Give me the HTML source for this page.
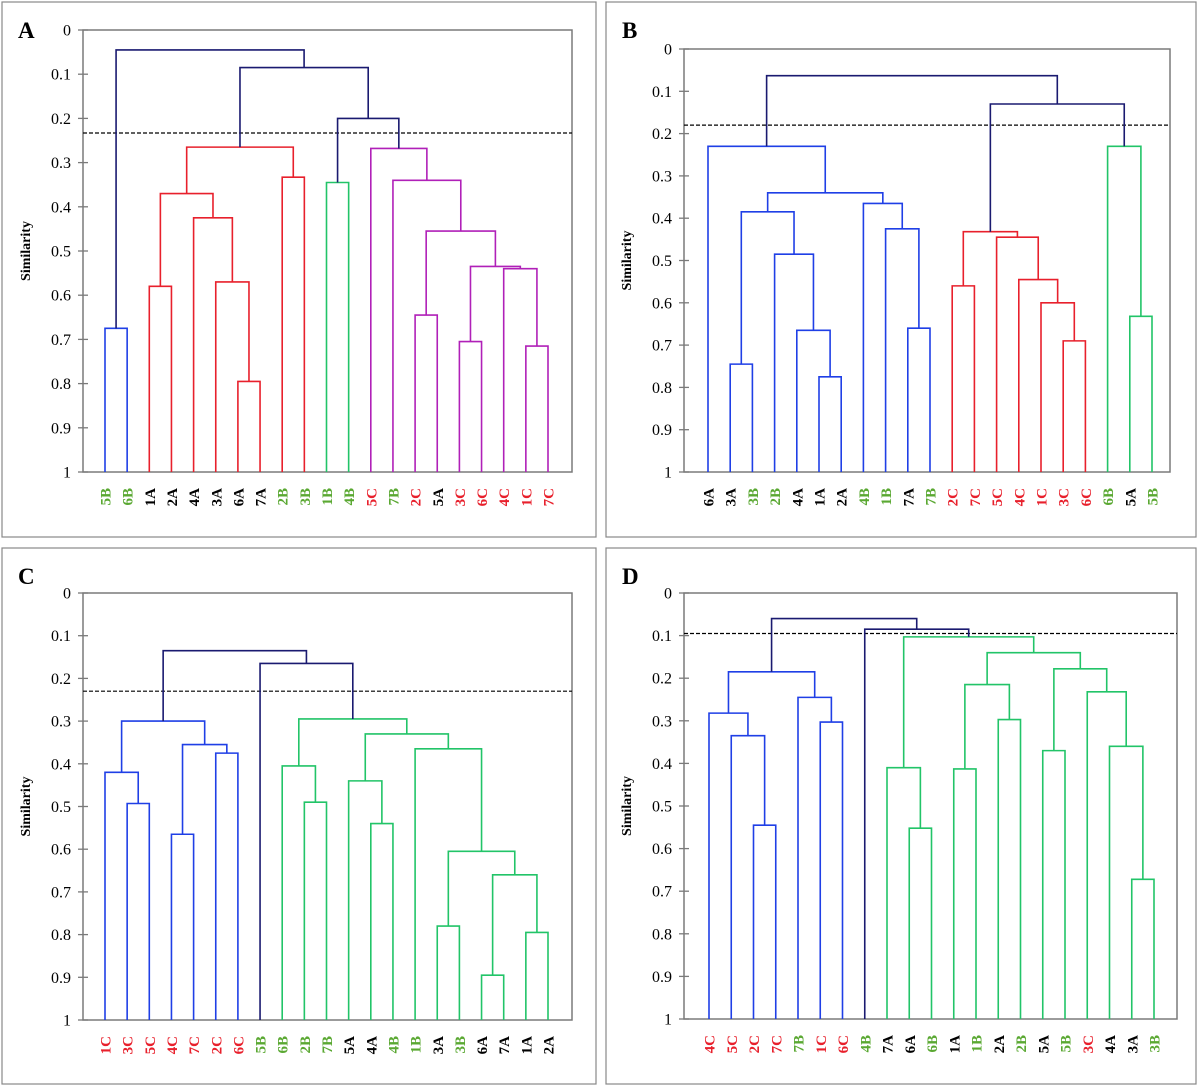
<!DOCTYPE html>
<html><head><meta charset="utf-8"><style>
body{margin:0;background:#fff}
svg text{font-family:"Liberation Serif",serif}
</style></head><body>
<svg id="fig" width="1200" height="1086" viewBox="0 0 1200 1086" xmlns="http://www.w3.org/2000/svg"></svg>
<script>
const NS="http://www.w3.org/2000/svg";
const svg=document.getElementById('fig');
const COL={b:'#1f3fe6',r:'#e8202c',m:'#b020b8',g:'#22c468',n:'#1a1a70'};
const LBL={A:'#000',B:'#5aa832',C:'#e8202c'};

// Panel A data
const leavesA=['5B','6B','1A','2A','4A','3A','6A','7A','2B','3B','1B','4B','5C','7B','2C','5A','3C','6C','4C','1C','7C'];
const leftA=[0,6,5,4,2,25,8,26,10,14,16,19,18,31,30,13,12,29,28,21];
const rightA=[1,7,22,23,3,24,9,27,11,15,17,20,32,33,34,35,36,37,38,39];
const heightA=[0.675,0.795,0.57,0.425,0.58,0.37,0.333,0.265,0.345,0.645,0.705,0.715,0.54,0.535,0.455,0.34,0.268,0.2,0.085,0.045];
const colorA=['b','r','r','r','r','r','r','r','g','m','m','m','m','m','m','m','m','n','n','n'];
const cutA=0.233;
// Panel B data
const leavesB=['6A','3A','3B','2B','4A','1A','2A','4B','1B','7A','7B','2C','7C','5C','4C','1C','3C','6C','6B','5A','5B'];
const leftB=[1,5,4,3,21,9,8,7,25,0,16,15,14,13,11,35,19,18,36,30];
const rightB=[2,6,22,23,24,10,26,27,28,29,17,31,32,33,12,34,20,37,38,39];
const heightB=[0.745,0.775,0.665,0.485,0.385,0.66,0.425,0.365,0.34,0.23,0.69,0.6,0.545,0.445,0.56,0.432,0.632,0.23,0.13,0.063];
const colorB=['b','b','b','b','b','b','b','b','b','b','r','r','r','r','r','r','g','g','n','n'];
const cutB=0.18;
// Panel C data
const leavesC=['1C','3C','5C','4C','7C','2C','6C','5B','6B','2B','7B','5A','4A','4B','1B','3A','3B','6A','7A','1A','2A'];
const leftC=[1,0,3,5,23,22,9,8,12,11,17,19,31,15,34,14,30,28,7,26];
const rightC=[2,21,4,6,24,25,10,27,13,29,18,20,32,16,33,35,36,37,38,39];
const heightC=[0.493,0.42,0.565,0.375,0.355,0.3,0.49,0.405,0.54,0.44,0.895,0.795,0.66,0.78,0.605,0.365,0.33,0.295,0.165,0.135];
const colorC=['b','b','b','b','b','b','g','g','g','g','g','g','g','g','g','g','g','g','n','n'];
const cutC=0.23;
// Panel D data
const leavesD=['4C','5C','2C','7C','7B','1C','6C','4B','7A','6A','6B','1A','1B','2A','2B','5A','5B','3C','4A','3A','3B'];
const leftD=[2,1,0,5,4,23,9,8,13,11,30,19,18,17,15,35,31,28,7,26];
const rightD=[3,21,22,6,24,25,10,27,14,12,29,20,32,33,16,34,36,37,38,39];
const heightD=[0.545,0.335,0.282,0.303,0.245,0.185,0.552,0.41,0.297,0.413,0.215,0.672,0.36,0.232,0.37,0.178,0.14,0.103,0.085,0.06];
const colorD=['b','b','b','b','b','b','g','g','g','g','g','g','g','g','g','g','g','g','n','n'];
const cutD=0.095;
const ticks=['0','0.1','0.2','0.3','0.4','0.5','0.6','0.7','0.8','0.9','1'];

function el(tag,attrs,parent){const e=document.createElementNS(NS,tag);for(const k in attrs)e.setAttribute(k,attrs[k]);(parent||svg).appendChild(e);return e;}

function panel(id,box,geo,leaves,left,right,height,color,cut){
  const g=el('g',{});
  
  
  const frame=el('rect',{x:box[0],y:box[1],width:box[2],height:box[3],fill:'none',stroke:'#888','stroke-width':1.2},g);
  
  
  const lt=el('text',{x:box[0]+16,y:box[1]+36,'font-size':23,'font-weight':'bold'},g);
  lt.textContent=id;
  
  
  const [x0,x1,yT,yB,lx0,lx1]=geo;
  const Y=v=>yT+v*(yB-yT);
  const n=leaves.length;
  const X=i=>lx0+i*(lx1-lx0)/(n-1);
  const pa=el('rect',{x:x0,y:yT,width:x1-x0,height:yB-yT,fill:'none',stroke:'#7a7a7a','stroke-width':1.5},g);
  
  
  ticks.forEach((t,i)=>{
    const v=i/10;
    el('line',{x1:x0-5,x2:x0+5,y1:Y(v),y2:Y(v),stroke:'#7a7a7a','stroke-width':1.3},g);
    const tx=el('text',{x:x0-12,y:Y(v)+5.5,'font-size':16,'text-anchor':'end'},g);
    tx.textContent=t;
    
    
  });
  const yt=el('text',{x:0,y:0,'font-size':14,'font-weight':'bold','text-anchor':'middle',transform:`translate(${x0-53},${(yT+yB)/2}) rotate(-90)`},g);
  yt.textContent='Similarity';
  
  
  const cl=el('line',{x1:x0,x2:x1,y1:Y(cut),y2:Y(cut),stroke:'#000','stroke-width':1.2,'stroke-dasharray':'4,2'},g);
  
  
  const nx=[],ny=[];
  leaves.forEach((l,i)=>{nx[i]=X(i);ny[i]=1;
    const t=el('text',{x:0,y:0,'font-size':15,'font-weight':'bold','text-anchor':'end',fill:LBL[l[1]],transform:`translate(${X(i)+5.5},${yB+16}) rotate(-90)`},g);
    t.textContent=l;
    
    
  });
  height.forEach((h,k)=>{
    const a=left[k],b=right[k];
    const p=el('path',{d:`M${nx[a]},${Y(ny[a])}V${Y(h)}H${nx[b]}V${Y(ny[b])}`,fill:'none',stroke:COL[color[k]],'stroke-width':1.6},g);
    
    
    nx[n+k]=(nx[a]+nx[b])/2;ny[n+k]=h;
  });
}
panel('A',[2,2,594,535],[83,572,30,472,105,548],leavesA,leftA,rightA,heightA,colorA,cutA);
panel('B',[606,2,590,535],[684,1170,49,472,708,1152],leavesB,leftB,rightB,heightB,colorB,cutB);
panel('C',[2,548,594,536],[83,572,593,1020,105,548],leavesC,leftC,rightC,heightC,colorC,cutC);
panel('D',[606,548,590,536],[684,1177,593,1019,709,1154],leavesD,leftD,rightD,heightD,colorD,cutD);
</script>
</body></html>
